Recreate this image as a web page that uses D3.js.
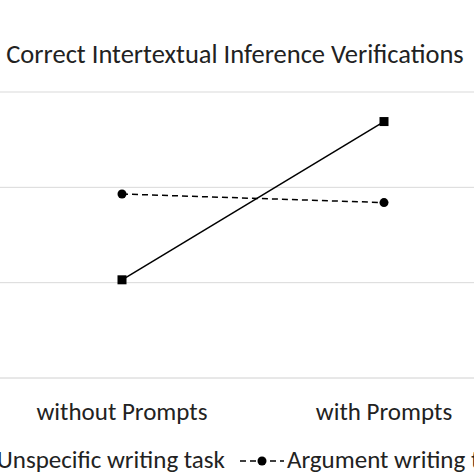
<!DOCTYPE html>
<html><head><meta charset="utf-8">
<script src="https://cdn.jsdelivr.net/npm/d3@7"></script>
<style>body{margin:0;background:#fff}text{font-family:Calibri,Carlito,"Liberation Sans",Arial,sans-serif;fill:#222}</style>
</head><body><svg width="474" height="474"></svg>
<script>
const categories=["without Prompts","with Prompts"];
const unspecific=[1.03,2.69];
const argument=[1.93,1.84];
const gridValues=[0,1,2,3];
const svg=d3.select("svg");
const x=d3.scalePoint().domain(categories).range([122,384]);
const y=d3.scaleLinear().domain([0,3]).range([378,92]);
svg.append("g").selectAll("line").data(gridValues).join("line")
 .attr("x1",0).attr("x2",474).attr("y1",d=>y(d)).attr("y2",d=>y(d))
 .attr("stroke",d=>d===0?"#d0d0d0":"#d9d9d9").attr("stroke-width",1);
svg.append("text").attr("x",235).attr("y",63).attr("text-anchor","middle").attr("font-size",26.5).text("Correct Intertextual Inference Verifications");
svg.append("g").selectAll("text").data(categories).join("text")
 .attr("x",d=>x(d)).attr("y",420).attr("text-anchor","middle").attr("font-size",25).text(d=>d);
const line=d3.line().x((d,i)=>x(categories[i])).y(d=>y(d));
svg.append("path").attr("d",line(unspecific)).attr("fill","none").attr("stroke","#000").attr("stroke-width",1.5);
svg.append("path").attr("d",line(argument)).attr("fill","none").attr("stroke","#000").attr("stroke-width",1.5).attr("stroke-dasharray","6,4");
svg.append("g").selectAll("rect").data(unspecific).join("rect")
 .attr("x",(d,i)=>x(categories[i])-4.5).attr("y",d=>y(d)-4.5).attr("width",9).attr("height",9).attr("fill","#000");
svg.append("g").selectAll("circle").data(argument).join("circle")
 .attr("cx",(d,i)=>x(categories[i])).attr("cy",d=>y(d)).attr("r",4.5).attr("fill","#000");
// legend
svg.append("line").attr("x1",-80).attr("x2",-40).attr("y1",461).attr("y2",461).attr("stroke","#000").attr("stroke-width",1.5);
svg.append("text").attr("x",225).attr("y",468).attr("text-anchor","end").attr("font-size",25).text("Unspecific writing task");
svg.append("line").attr("x1",240).attr("x2",284).attr("y1",461).attr("y2",461).attr("stroke","#000").attr("stroke-width",1.5).attr("stroke-dasharray","6,4");
svg.append("circle").attr("cx",262).attr("cy",461).attr("r",4.5).attr("fill","#000");
svg.append("text").attr("x",287).attr("y",468).attr("font-size",25).text("Argument writing task");
</script></body></html>
